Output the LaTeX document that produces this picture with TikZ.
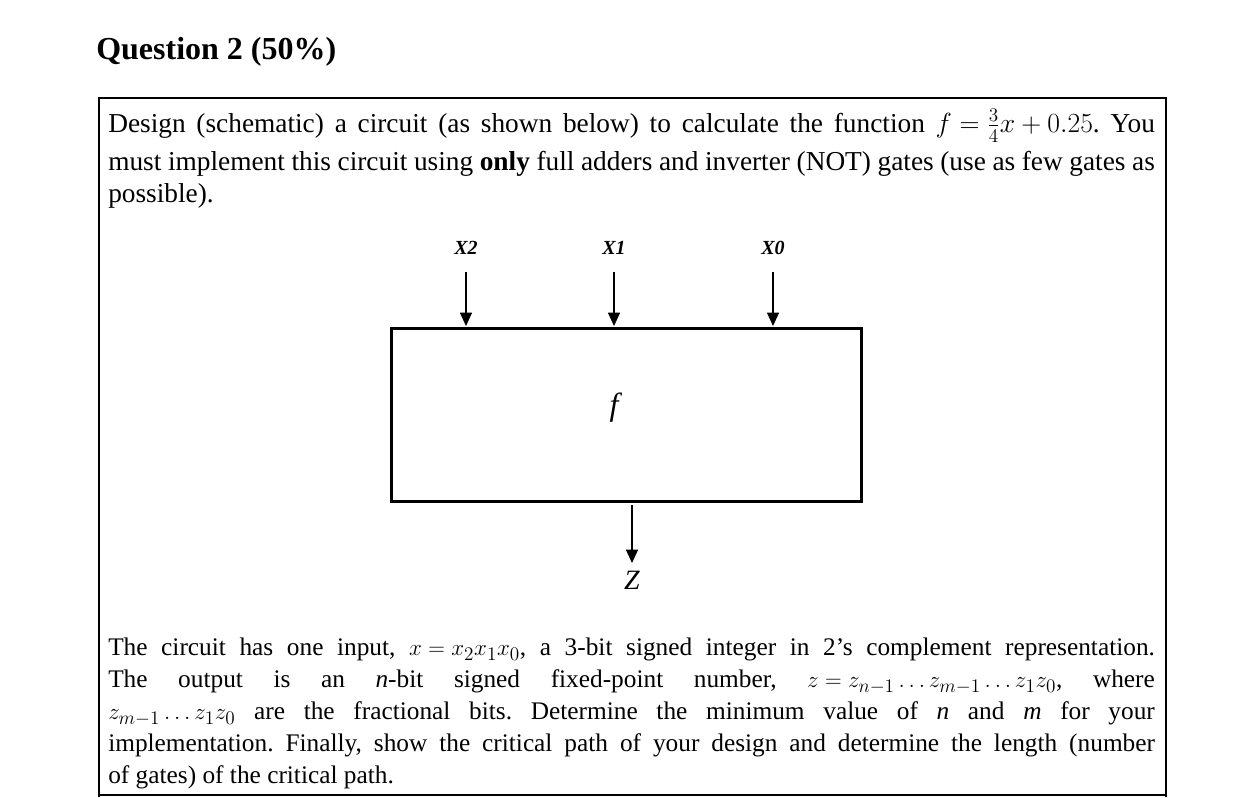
\documentclass[tikz,border=0pt]{standalone}
\usepackage{fontspec}
\setmainfont{Liberation Serif}
\usetikzlibrary{arrows.meta}
\begin{document}
\begin{tikzpicture}[x=0.75pt,y=-0.75pt,
  inarrow/.style={line width=0.8pt,-{Triangle[width=9pt,length=10pt]}},
  para/.style={anchor=north west,inner sep=0pt,text width=785pt,align=justify,font=\fontsize{20.5pt}{24pt}\selectfont}]
\useasboundingbox (0,0) rectangle (1238,797);
\node[anchor=west,inner sep=0pt,font=\fontsize{24pt}{30pt}\selectfont\bfseries] (title) at (96,52) {Question 2 (50\%)};
\draw[line width=0.9pt] (99,797) -- (99,98) -- (1166,98) -- (1166,797);
\draw[line width=0.9pt] (99,795) -- (1166,795);
\node[para] (p1) at (108,109) {\frenchspacing\hyphenpenalty=10000 Design (schematic) a circuit (as shown below) to calculate the function \mbox{$f=\frac{3}{4}x+0.25$}. You\linebreak
\rule{0pt}{20pt}must implement this circuit using \textbf{only} full adders and inverter (NOT) gates (use as few gates as\linebreak
possible).};
\node[draw,line width=2.2pt,minimum width=352pt,minimum height=130pt,inner sep=0pt] (box) at (626.5,415) {};
\node[font=\fontsize{24pt}{24pt}\selectfont\itshape] (f) at (614,408) {f};
\foreach \xx/\nm/\lab in {466/a/X\textit{2},614/b/X\textit{1},773/c/X\textit{0}}{
  \node[font=\fontsize{15pt}{15pt}\selectfont\bfseries\itshape] (l\nm) at (\xx,248) {\lab};
  \coordinate (s\nm) at (\xx,272);
  \coordinate (e\nm) at (\xx,326);
  \draw[inarrow] (s\nm) -- (e\nm);
}
\coordinate (zs) at (632,505);
\coordinate (ze) at (632,563);
\draw[inarrow] (zs) -- (ze);
\node[font=\fontsize{21pt}{21pt}\selectfont\itshape] (z) at (632,580) {Z};
\node[para,font=\fontsize{19pt}{24pt}\selectfont] (p2) at (108,638) {\frenchspacing\hyphenpenalty=10000 The circuit has one input, \mbox{$x=x_2x_1x_0$}, a 3-bit signed integer in 2’s complement representation.\linebreak
The output is an \textit{n}-bit signed fixed-point number, \mbox{$z=z_{n-1}\dots z_{m-1}\dots z_1z_0$}, where\linebreak
\mbox{$z_{m-1}\dots z_1z_0$} are the fractional bits. Determine the minimum value of \textit{n} and \textit{m} for your\linebreak
implementation. Finally, show the critical path of your design and determine the length (number\linebreak
of gates) of the critical path.};
\end{tikzpicture}
\end{document}
